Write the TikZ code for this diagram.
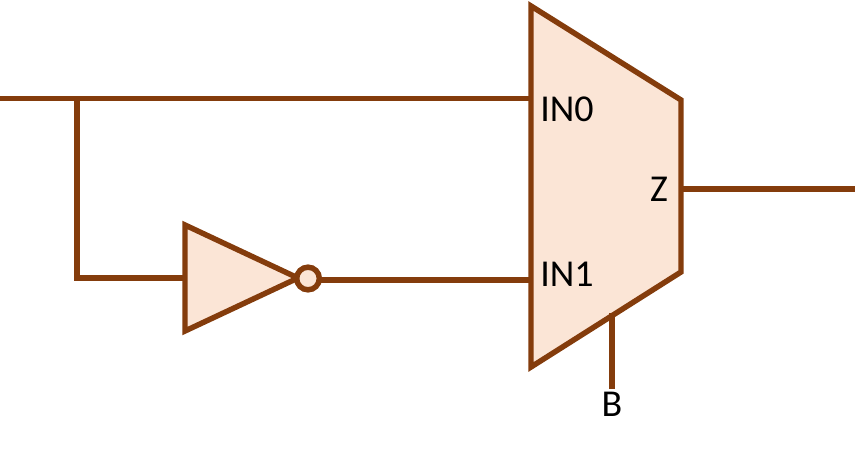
\documentclass[tikz,border=0pt]{standalone}
\usepackage{fontspec}
\setmainfont{Carlito}
\definecolor{wire}{HTML}{843C0C}
\definecolor{fillc}{HTML}{FBE5D6}
\tikzset{
 gate/.style={draw=wire,fill=fillc,line width=4.1pt,line join=miter},
 wireline/.style={draw=wire,line width=4.1pt},
 lab/.style={font=\fontsize{28.5}{30}\selectfont,text=black,inner sep=0pt}}
\begin{document}
\begin{tikzpicture}[x=0.75pt,y=-0.75pt]
\useasboundingbox (0,0) rectangle (855,449);
\coordinate (inL) at (0,98.5);
\coordinate (tap) at (77,98.5);
\coordinate (outR) at (855,189);
\coordinate (invin) at (185,278);
\coordinate (mi0) at (531,98.5);
\coordinate (mi1) at (531,280);
\coordinate (bubr) at (316,280);
\coordinate (mz) at (681,189);
\coordinate (ms) at (612,313);
\coordinate (bt) at (612,389);
\draw[gate] (531,6) -- (681,100) -- (681,272) -- (531,367) -- cycle;
\draw[gate] (185,225) -- (298,278) -- (185,331) -- cycle;
\draw[wireline] (inL) -- (mi0);
\draw[wireline] (tap) |- (invin);
\draw[wireline] (bubr) -- (mi1);
\draw[wireline] (mz) -- (outR);
\draw[wireline] (ms) -- (bt);
\node[circle,draw=wire,fill=fillc,line width=4.1pt,minimum size=17pt,inner sep=0pt] (bub) at (308,278.5) {};
\node[lab] (a) at (567,109) {IN0};
\node[lab] (b) at (567,274) {IN1};
\node[lab] (c) at (659,189) {Z};
\node[lab] (d) at (612,404) {B};
\end{tikzpicture}
\end{document}
